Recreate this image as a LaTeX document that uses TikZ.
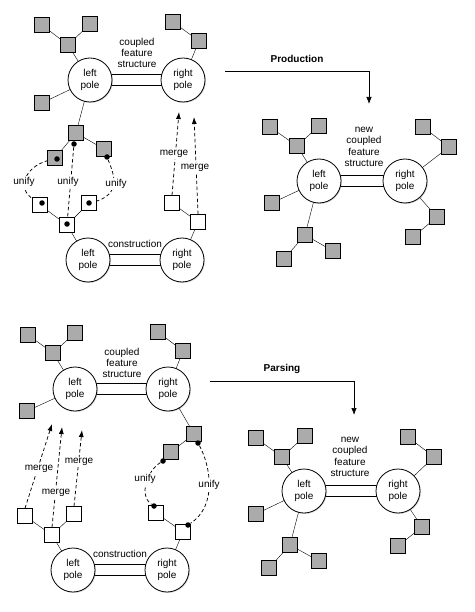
\documentclass[tikz,border=0pt]{standalone}
\usepackage{fontspec}
\setmainfont{Liberation Sans}
\usetikzlibrary{backgrounds,shadows,arrows.meta}
\begin{document}
\begin{tikzpicture}[x=1pt,y=-1pt, line width=0.6pt,
 lbl/.style={font=\fontsize{10}{11.3}\selectfont, align=center},
 shdw/.style={drop shadow={shadow xshift=0.9pt, shadow yshift=-0.9pt, opacity=0.35}},
 pole/.style={circle, draw, fill=white, minimum size=44pt, inner sep=0pt, lbl, line width=0.8pt, shdw},
 gsq/.style={rectangle, draw, fill=black!33, minimum size=15pt, inner sep=0pt, shdw},
 wsq/.style={gsq, fill=white},
 pt/.style={circle, fill=black, minimum size=5.5pt, inner sep=0pt},
 cpl/.style={double distance=10pt, line width=0.7pt},
 dsh/.style={dash pattern=on 3.5pt off 2.5pt, line width=0.75pt},
 mrg/.style={dsh, -{Latex[length=7pt,width=5pt]}},
 tag/.style={lbl, fill=white, inner sep=1pt},
 flow/.style={line width=0.7pt, -{Latex[length=7pt,width=5.5pt]}},
 ttl/.style={font=\fontsize{10}{11}\selectfont\bfseries}
]
\useasboundingbox (0,0) rectangle (474,612);

% ================= TOP LEFT =================
\node[pole] (lp1) at (90,80) {left\\pole};
\node[pole] (rp1) at (183,80) {right\\pole};
\node[lbl] (cfs1) at (137,53) {coupled\\feature\\structure};
\node[gsq] (a1) at (42,25) {};
\node[gsq] (a2) at (90,24) {};
\node[gsq] (a3) at (68,45) {};
\node[gsq] (a4) at (42,103) {};
\node[gsq] (a5) at (76,133) {};
\node[gsq] (a6) at (55,158) {};
\node[gsq] (a7) at (104,149) {};
\node[gsq] (b1) at (173,22) {};
\node[gsq] (b2) at (199,41) {};
\node[pt] (d1) at (57,159) {};
\node[pt] (d2) at (74,144) {};
\node[pt] (d3) at (107,157) {};

\node[pole] (lp2) at (88,260) {left\\pole};
\node[pole] (rp2) at (182,260) {right\\pole};
\node[lbl] (con1) at (135,244) {construction};
\node[wsq] (w1) at (40,205) {};
\node[wsq] (w2) at (67,225) {};
\node[wsq] (w3) at (89,203) {};
\node[wsq] (w4) at (172,203) {};
\node[wsq] (w5) at (198,222) {};
\node[pt] (dw1) at (42,203) {};
\node[pt] (dw2) at (67,224) {};
\node[pt] (dw3) at (89,203) {};
\coordinate (t1) at (179,112);
\coordinate (t2) at (194,117);

\node[tag] (u1) at (24,182) {unify};
\node[tag] (u2) at (68,182) {unify};
\node[tag] (u3) at (116,184) {unify};
\node[tag] (m1) at (174,154) {merge};
\node[tag] (m2) at (195,168) {merge};

% ================= TOP RIGHT =================
\node[ttl] (prod) at (297,59) {Production};
\coordinate (ps) at (225,71);
\coordinate (pc) at (369,71);
\coordinate (pe) at (369,104);
\node[pole] (lp3) at (319,181) {left\\pole};
\node[pole] (rp3) at (405,181) {right\\pole};
\node[lbl] (ncfs1) at (364,147) {new\\coupled\\feature\\structure};
\node[gsq] (p1) at (270,127) {};
\node[gsq] (p2) at (319,126) {};
\node[gsq] (p3) at (297,146) {};
\node[gsq] (p4) at (272,203) {};
\node[gsq] (p5) at (305,235) {};
\node[gsq] (p6) at (333,251) {};
\node[gsq] (p7) at (284,259) {};
\node[gsq] (q1) at (423,127) {};
\node[gsq] (q2) at (449,147) {};
\node[gsq] (q3) at (437,217) {};
\node[gsq] (q4) at (413,237) {};

% ================= BOTTOM LEFT =================
\node[pole] (lp4) at (75,389) {left\\pole};
\node[pole] (rp4) at (168,389) {right\\pole};
\node[lbl] (cfs2) at (122,363) {coupled\\feature\\structure};
\node[gsq] (c1) at (28,335) {};
\node[gsq] (c2) at (75,333) {};
\node[gsq] (c3) at (53,353) {};
\node[gsq] (c4) at (27,411) {};
\node[gsq] (e1) at (158,332) {};
\node[gsq] (e2) at (183,351) {};
\node[gsq] (e3) at (194,434) {};
\node[gsq] (e4) at (171,452) {};
\node[pt] (de3) at (198,443) {};
\node[pt] (de4) at (163,461) {};

\node[pole] (lp5) at (73,570) {left\\pole};
\node[pole] (rp5) at (167,570) {right\\pole};
\node[lbl] (con2) at (120,554) {construction};
\node[wsq] (f1) at (25,516) {};
\node[wsq] (f2) at (74,514) {};
\node[wsq] (f3) at (52,535) {};
\node[wsq] (g1) at (156,513) {};
\node[wsq] (g2) at (183,532) {};
\node[pt] (dg1) at (154,506) {};
\node[pt] (dg2) at (188,525) {};
\coordinate (t3) at (52,424);
\coordinate (t4) at (62,427);
\coordinate (t5) at (82,430);

\node[tag] (m3) at (39,469) {merge};
\node[tag] (m4) at (56,493) {merge};
\node[tag] (m5) at (79,462) {merge};
\node[tag] (u4) at (145,479) {unify};
\node[tag] (u5) at (209,485) {unify};

% ================= BOTTOM RIGHT =================
\node[ttl] (pars) at (282,369) {Parsing};
\coordinate (ss) at (210,381);
\coordinate (sc) at (354,381);
\coordinate (se) at (354,415);
\node[pole] (lp6) at (304,491) {left\\pole};
\node[pole] (rp6) at (398,491) {right\\pole};
\node[lbl] (ncfs2) at (350,457) {new\\coupled\\feature\\structure};
\node[gsq] (h1) at (256,438) {};
\node[gsq] (h2) at (305,436) {};
\node[gsq] (h3) at (282,457) {};
\node[gsq] (h4) at (256,514) {};
\node[gsq] (h5) at (290,545) {};
\node[gsq] (h6) at (319,561) {};
\node[gsq] (h7) at (269,568) {};
\node[gsq] (k1) at (408,437) {};
\node[gsq] (k2) at (434,457) {};
\node[gsq] (k3) at (422,527) {};
\node[gsq] (k4) at (398,546) {};

\begin{pgfonlayer}{background}
% top left links
\draw[cpl] (lp1.center) -- (rp1.center);
\draw (lp1.center) -- (a3.center) (a3.center) -- (a1.center) (a3.center) -- (a2.center);
\draw (lp1.center) -- (a4.center) (lp1.center) -- (a5.center);
\draw (a5.center) -- (a6.center) (a5.center) -- (a7.center);
\draw (rp1.center) -- (b2.center) (b2.center) -- (b1.center);
\draw[cpl] (lp2.center) -- (rp2.center);
\draw (lp2.center) -- (w2.center) (w2.center) -- (w1.center) (w2.center) -- (w3.center);
\draw (rp2.center) -- (w5.center) (w5.center) -- (w4.center);
\draw[dsh] (d1) .. controls (25,163) and (12,192) .. (dw1);
\draw[dsh] (d2) -- (dw2);
\draw[dsh] (d3) .. controls (112,170) and (125,195) .. (dw3);
\draw[mrg] (w4.north) -- (t1);
\draw[mrg] (w5.north) -- (t2);
\draw[flow] (ps) -- (pc) -- (pe);
% top right links
\draw[cpl] (lp3.center) -- (rp3.center);
\draw (lp3.center) -- (p3.center) (p3.center) -- (p1.center) (p3.center) -- (p2.center);
\draw (lp3.center) -- (p4.center) (lp3.center) -- (p5.center);
\draw (p5.center) -- (p6.center) (p5.center) -- (p7.center);
\draw (rp3.center) -- (q2.center) (q2.center) -- (q1.center);
\draw (rp3.center) -- (q3.center) (q3.center) -- (q4.center);
% bottom left links
\draw[cpl] (lp4.center) -- (rp4.center);
\draw (lp4.center) -- (c3.center) (c3.center) -- (c1.center) (c3.center) -- (c2.center);
\draw (lp4.center) -- (c4.center);
\draw (rp4.center) -- (e2.center) (e2.center) -- (e1.center);
\draw (rp4.center) -- (e3.center) (e3.center) -- (e4.center);
\draw[cpl] (lp5.center) -- (rp5.center);
\draw (lp5.center) -- (f3.center) (f3.center) -- (f1.center) (f3.center) -- (f2.center);
\draw (rp5.center) -- (g2.center) (g2.center) -- (g1.center);
\draw[dsh] (de4) .. controls (148,470) and (138,495) .. (dg1);
\draw[dsh] (de3) .. controls (210,465) and (218,505) .. (dg2);
\draw[mrg] (f1.north) -- (t3);
\draw[mrg] (f3.north) -- (t4);
\draw[mrg] (f2.north) -- (t5);
\draw[flow] (ss) -- (sc) -- (se);
% bottom right links
\draw[cpl] (lp6.center) -- (rp6.center);
\draw (lp6.center) -- (h3.center) (h3.center) -- (h1.center) (h3.center) -- (h2.center);
\draw (lp6.center) -- (h4.center) (lp6.center) -- (h5.center);
\draw (h5.center) -- (h6.center) (h5.center) -- (h7.center);
\draw (rp6.center) -- (k2.center) (k2.center) -- (k1.center);
\draw (rp6.center) -- (k3.center) (k3.center) -- (k4.center);
\end{pgfonlayer}
\end{tikzpicture}
\end{document}
